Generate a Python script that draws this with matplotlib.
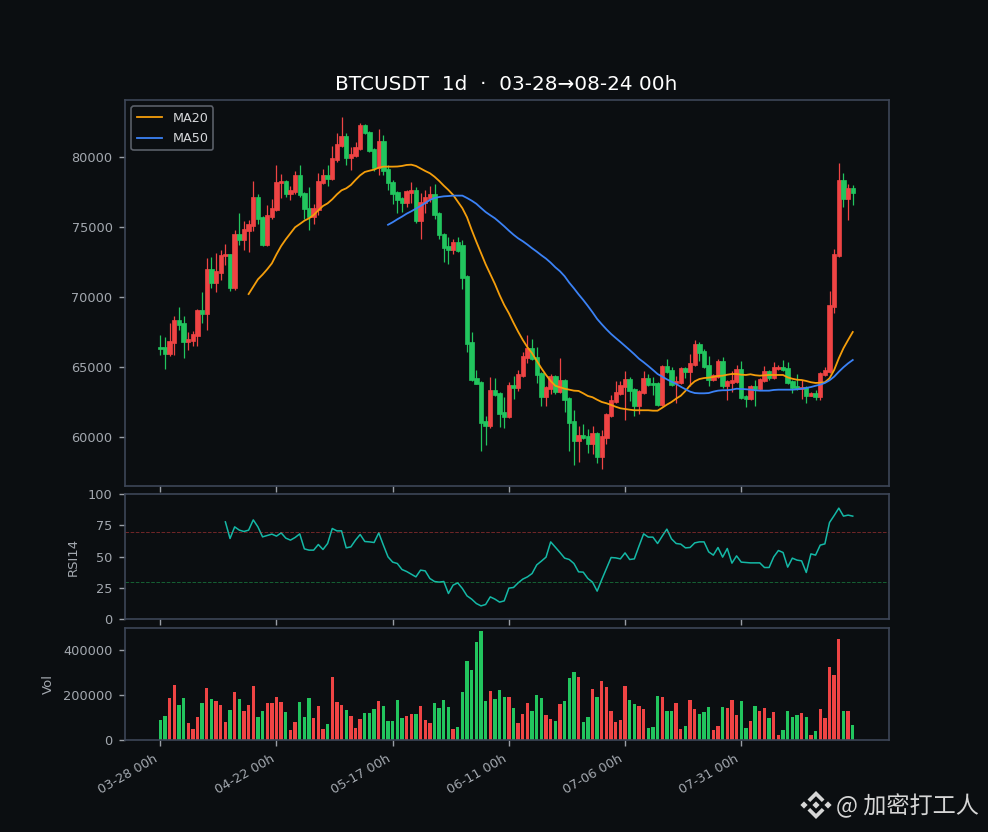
import numpy as np
import matplotlib
matplotlib.use("Agg")
import matplotlib.pyplot as plt
from matplotlib.patches import Polygon

opens = [
    66430,66430,65930,66710,68360,68140,66790,66860,67210,69070,
    68790,72000,71000,71710,72930,73070,70640,74500,74070,74710,
    75070,77140,75710,73710,75710,76210,78120,78290,77360,77500,
    78710,77430,76360,75740,76210,78140,78710,78430,79790,80790,
    81500,79930,80070,80570,82290,81790,80570,79210,81140,79140,
    78210,77500,77070,76740,77450,77640,75450,76690,76980,77360,
    76000,74500,73640,73360,73930,73710,71500,66790,64210,63930,
    61140,60790,63360,63140,61790,61430,63710,63500,64360,65640,
    66360,65710,64570,62860,63430,64360,63210,64070,62790,61140,
    59710,60140,60070,59500,60290,58570,59930,61500,62500,63070,
    63570,64140,63430,62210,63140,64210,63860,63860,62290,65070,
    64790,63830,63860,64930,64640,65140,66640,66140,65140,64070,
    64290,65430,63640,63860,63930,64860,62930,62710,63640,63430,
    64000,64710,64210,64860,65000,64930,64000,63640,63430,63570,
    62950,63140,62860,64430,64640,69310,72930,78360,77020,77790,
]
closes = [
    66290,65930,66860,68360,68000,66790,67000,67360,69070,68790,
    72000,71000,71860,73000,73070,70640,74500,74070,74860,75210,
    77140,75570,73710,75860,76360,78210,78290,77360,77640,78710,
    77290,76290,75740,76360,78290,78710,78430,79930,80930,81500,
    79930,80210,80710,82290,81710,80430,79210,81140,79020,78120,
    77360,76930,76740,77570,77640,75450,76790,77140,77360,75880,
    74400,73500,73360,73930,73290,71380,66670,64070,63810,61000,
    60790,63360,63000,61640,61430,63710,63500,64500,65790,66360,
    65570,64450,62860,63570,64360,63210,64070,62640,61000,59710,
    60140,59930,59500,60290,58570,60070,61640,62640,63210,63710,
    64140,63290,62210,63290,64210,63710,63710,62290,65070,64640,
    63710,64000,64930,64640,65290,66640,66000,65000,64070,64430,
    65430,63640,64000,64070,64860,62790,62710,63640,63430,64140,
    64710,64210,65000,65000,64790,63860,63500,63430,63570,62930,
    63140,62880,64570,64790,69430,73070,78360,77020,77790,77450,
]
highs = [
    67290,67140,68140,68640,69290,68640,67500,67570,69140,70360,
    72790,72860,73140,73360,73790,73070,74790,76000,75430,75500,
    78290,77360,75800,76570,77000,79430,78790,78360,77930,79000,
    79430,77500,77860,76640,78860,79140,79430,80790,81710,82860,
    81710,80710,81070,82430,82360,81850,80650,82000,81570,79430,
    78360,77550,77120,77650,78210,77830,77450,77640,77930,78070,
    76050,74550,74310,74140,74290,74070,71550,67500,64790,63980,
    61500,64290,64210,63200,62860,63930,64360,64790,66070,67290,
    67000,66430,64620,63620,64500,64400,65640,64120,62830,61930,
    60790,60930,60570,60790,60340,60500,61690,63000,64000,64000,
    64710,64290,63480,63340,64710,64500,64290,63900,65120,65570,
    65000,64360,64980,64980,65930,66930,66810,66290,65790,64480,
    65570,65710,64050,64710,65140,65430,62980,63690,64070,64190,
    65070,64760,65360,65140,65500,65360,64050,64500,64070,63620,
    63210,63360,64620,65020,70430,73430,79570,78860,78070,78000,
]
lows = [
    65860,64860,65790,65860,67640,65640,66210,66500,66500,68140,
    67640,70640,70360,71210,72290,70430,70500,73710,73360,73210,
    74710,75210,73650,73640,75570,76140,77070,77140,76930,77360,
    77140,75570,74790,75210,75860,78070,77930,78360,79640,80710,
    79430,79070,80000,80500,81640,80360,79000,78710,78710,77640,
    76640,75980,76100,76450,76690,75310,74170,75980,76790,75600,
    74170,72500,72360,73070,73240,70570,66070,64020,63760,59000,
    59430,60640,62950,60710,60640,61380,62710,63290,64310,65290,
    65520,63860,62210,62210,63070,63070,63160,61790,59000,58000,
    58210,59880,58860,58790,58140,57710,59500,61450,62450,63020,
    61210,62570,61500,61640,63070,63660,63000,62210,62210,64590,
    63640,62430,63790,64210,63640,65090,65430,64950,63640,64020,
    64240,63500,62640,63210,63860,62740,62140,62660,62210,63360,
    63950,64070,64140,64810,64740,63810,63140,63360,62710,62430,
    62900,62640,62640,64380,64590,68860,72880,76430,75500,76570,
]

# MA20 starts at bar 19, MA50 at bar 49
ma20 = [
    70210,
    70740,71260,71600,71980,72400,73050,73640,74120,74550,74980,
    75210,75450,75620,75860,76190,76500,76690,76980,77330,77620,
    77760,78000,78360,78690,78930,79020,79100,79240,79310,79310,
    79310,79320,79360,79430,79450,79360,79180,79000,78840,78590,
    78290,77950,77640,77290,76810,76340,75690,74790,73950,73140,
    72340,71640,70930,70140,69430,68840,68160,67520,66930,66410,
    65980,65450,64910,64430,64000,63660,63550,63450,63380,63310,
    63290,63120,62930,62840,62660,62500,62410,62290,62160,62050,
    62000,61950,61910,61910,61910,61910,61880,61880,62090,62310,
    62500,62740,62950,63290,63690,63980,64140,64210,64240,64290,
    64360,64380,64450,64500,64500,64450,64430,64480,64410,64380,
    64410,64430,64430,64430,64430,64260,64160,64090,64070,64000,
    63910,63860,63880,63910,64190,64790,65620,66340,66930,67500,
]
ma50 = [
    75160,
    75340,75550,75740,75950,76120,76310,76500,76710,76930,77070,
    77140,77190,77210,77240,77240,77240,77070,76880,76660,76360,
    76070,75840,75620,75340,75050,74740,74450,74190,73980,73740,
    73480,73240,72980,72740,72450,72120,71840,71480,71020,70620,
    70190,69790,69360,68910,68430,68050,67690,67360,67070,66790,
    66500,66210,65910,65590,65340,65070,64790,64500,64310,64120,
    63950,63790,63590,63410,63240,63140,63120,63120,63140,63240,
    63310,63340,63340,63380,63450,63430,63410,63380,63340,63310,
    63310,63310,63360,63380,63380,63380,63380,63410,63450,63500,
    63570,63660,63740,63860,64050,64310,64660,64980,65260,65500,
]

# RSI14 starts at bar 14
rsi = [
    77.7,64.4,73.7,71.1,70.0,71.1,79.3,73.7,65.7,66.8,
    67.9,66.3,68.9,64.7,63.1,65.2,68.1,56.1,55.1,55.1,
    59.6,55.6,60.4,72.4,70.5,70.5,56.9,57.7,63.1,67.6,
    62.0,61.7,61.2,68.9,59.1,49.7,45.5,44.4,39.6,38.0,
    35.9,33.7,39.1,38.5,32.4,30.0,29.5,30.0,20.4,27.1,
    28.9,24.4,18.5,15.9,12.4,10.5,11.6,17.7,15.9,13.5,14.5,
    24.7,25.2,28.9,31.9,33.7,36.4,43.3,46.3,49.5,61.7,
    57.5,53.2,48.7,47.6,44.4,37.7,37.5,32.4,29.5,22.3,
    31.6,40.4,49.2,48.9,48.1,52.9,47.6,48.1,58.3,68.1,
    65.5,65.5,60.4,66.3,71.9,64.1,60.4,59.9,56.9,57.2,
    60.9,61.7,61.7,53.7,51.1,57.2,49.5,56.4,44.7,50.5,
    45.5,45.2,44.9,44.9,44.9,41.2,41.2,49.7,54.8,53.2,
    41.5,48.7,47.1,46.5,37.2,52.1,51.1,59.1,60.1,77.2,
    82.8,88.7,82.3,83.1,82.3,
]

volumes = [
    89000,107000,188000,246000,156000,188000,76000,49000,103000,165000,
    232000,183000,174000,156000,80000,134000,215000,183000,130000,156000,
    241000,103000,130000,165000,165000,192000,170000,125000,45000,80000,
    170000,103000,188000,98000,152000,49000,72000,282000,170000,156000,
    134000,107000,54000,94000,121000,121000,139000,174000,152000,85000,
    85000,179000,98000,107000,116000,116000,152000,89000,76000,165000,
    143000,179000,148000,49000,58000,215000,349000,313000,434000,483000,
    174000,219000,183000,224000,192000,
    192000,143000,76000,116000,165000,130000,201000,188000,112000,94000,
    85000,161000,174000,277000,304000,282000,80000,103000,228000,192000,
    264000,237000,130000,80000,89000,241000,179000,161000,152000,139000,
    54000,58000,197000,192000,130000,130000,165000,49000,63000,179000,
    139000,116000,125000,148000,45000,63000,148000,143000,179000,112000,
    174000,54000,85000,152000,130000,143000,98000,125000,22000,45000,
    130000,103000,112000,121000,103000,22000,40000,139000,98000,326000,
    291000,451000,130000,130000,67000,
]

tick_labels = ["03-28 00h", "04-22 00h", "05-17 00h", "06-11 00h", "07-06 00h", "07-31 00h"]
title = "BTCUSDT  1d  ·  03-28→08-24 00h"

W, H = 988, 832
BG = "#0b0e11"
EDGE = "#3d4657"
TXT = "#a3a8af"
UP = "#ef4444"
DOWN = "#22c55e"

plt.rcParams["font.family"] = ["DejaVu Sans"]


def pixel_axes(left, top, right, bottom):
    a = fig.add_axes([left / W, 1 - bottom / H, (right - left) / W, (bottom - top) / H])
    a.set_facecolor(BG)
    for s in a.spines.values():
        s.set_color(EDGE)
        s.set_linewidth(1.2)
    a.tick_params(colors=TXT, labelsize=9.3, length=4, width=1, color="#9a9fa6", pad=5)
    return a


fig = plt.figure(figsize=(W / 100, H / 100), dpi=100, facecolor=BG)
ax = pixel_axes(125, 100, 889, 486)
ax_rsi = pixel_axes(125, 494, 889, 619)
ax_vol = pixel_axes(125, 627.5, 889, 740)

x = np.arange(len(closes))
o = np.array(opens)
c = np.array(closes)
colors = [UP if cl >= op else DOWN for op, cl in zip(opens, closes)]

# candles
ax.vlines(x, lows, highs, colors=colors, linewidth=0.9, zorder=2)
ax.bar(x, c - o, bottom=o, width=0.95, color=colors, edgecolor=colors, linewidth=0.5, zorder=3)
ax.plot(x[150 - len(ma20):], ma20, color="#f59e0b", linewidth=1.3, label="MA20", zorder=4)
ax.plot(x[150 - len(ma50):], ma50, color="#3b82f6", linewidth=1.3, label="MA50", zorder=4)
ax.set_ylim(56500, 84070)
ax.set_yticks([60000, 65000, 70000, 75000, 80000])
ax.set_title(title, color="white", fontsize=14.4, pad=7, x=0.499)
leg = ax.legend(loc="upper left", facecolor=BG, edgecolor="#5a5f68", labelcolor="#d5d7da",
                fontsize=9.2, framealpha=1, borderaxespad=0.5, labelspacing=0.6)
leg.get_frame().set_linewidth(1.2)

# rsi panel
ax_rsi.plot(x[150 - len(rsi):], rsi, color="#14b8a6", linewidth=1.1)
ax_rsi.axhline(70, color="#ef4444", linewidth=0.7, linestyle="--", alpha=0.45)
ax_rsi.axhline(30, color="#22c55e", linewidth=0.7, linestyle="--", alpha=0.45)
ax_rsi.set_ylim(0, 100)
ax_rsi.set_yticks([0, 25, 50, 75, 100])
ax_rsi.set_ylabel("RSI14", color=TXT, fontsize=9.5, labelpad=6)

# volume panel
ax_vol.bar(x, volumes, width=0.72, color=colors)
ax_vol.set_ylim(0, 500000)
ax_vol.set_yticks([0, 200000, 400000])
ax_vol.set_ylabel("Vol", color=TXT, fontsize=9.5, labelpad=6)

tick_pos = x[::25][:len(tick_labels)]
for a in (ax, ax_rsi, ax_vol):
    a.set_xlim(-7.6, 156.8)
    a.set_xticks(tick_pos)
    a.set_xticklabels([])
ax_vol.set_xticklabels(tick_labels, rotation=30, ha="right")

# watermark
ov = fig.add_axes([0, 0, 1, 1])
ov.set_xlim(0, W)
ov.set_ylim(H, 0)
ov.axis("off")
ov.patch.set_alpha(0)
cx, cy = 816, 805
mark = "#d6d6d6"
for dx in (-12, 0, 12):
    ov.add_patch(Polygon([(cx + dx - 3.6, cy), (cx + dx, cy - 3.6), (cx + dx + 3.6, cy), (cx + dx, cy + 3.6)],
                         closed=True, fc=mark, ec="none"))
for sign in (-1, 1):
    ov.add_patch(Polygon([(cx, cy + sign * 14), (cx + 8.5, cy + sign * 5.5), (cx + 5.8, cy + sign * 3),
                          (cx, cy + sign * 8.8), (cx - 5.8, cy + sign * 3), (cx - 8.5, cy + sign * 5.5)],
                         closed=True, fc=mark, ec="none"))
ov.text(836, 806, "@ 加密打工人", color=mark, fontsize=16.7, va="center", ha="left",
        family=["Noto Sans CJK SC", "DejaVu Sans"])

fig.savefig("out.png", dpi=100, facecolor=BG)
